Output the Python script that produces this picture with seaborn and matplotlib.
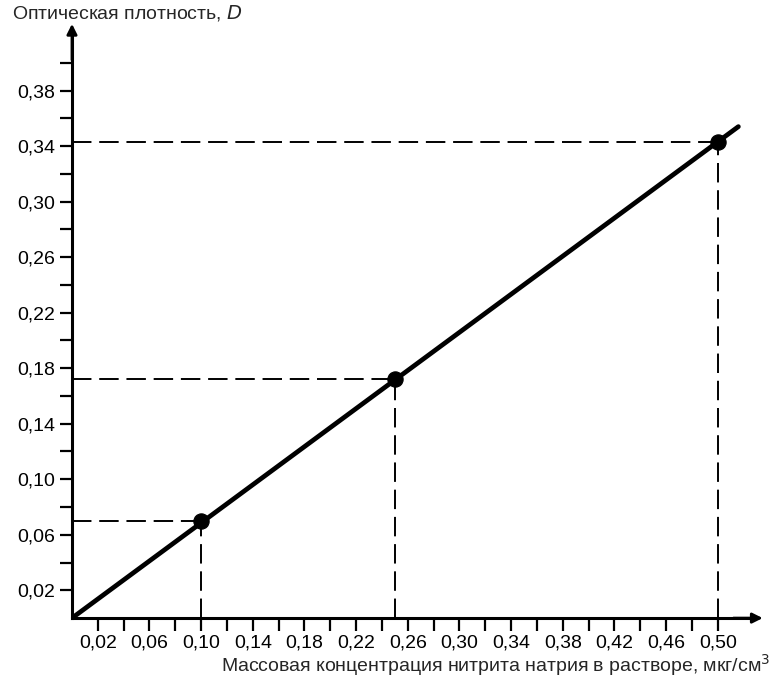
import matplotlib
matplotlib.use("Agg")
import matplotlib.pyplot as plt
import seaborn as sns
import numpy as np
import pandas as pd

sns.set_theme(style="white")
plt.rcParams['font.family'] = ['Liberation Sans', 'DejaVu Sans']

conc = [0.10, 0.25, 0.50]
dens = [0.070, 0.172, 0.343]
line_x = [0.0, 0.516]
line_y = [0.0, 0.354]
x_ticks = [0.02, 0.04, 0.06, 0.08, 0.10, 0.12, 0.14, 0.16, 0.18, 0.20, 0.22, 0.24, 0.26,
           0.28, 0.30, 0.32, 0.34, 0.36, 0.38, 0.40, 0.42, 0.44, 0.46, 0.48, 0.50]
y_ticks = [0.02, 0.04, 0.06, 0.08, 0.10, 0.12, 0.14, 0.16, 0.18, 0.20, 0.22, 0.24, 0.26,
           0.28, 0.30, 0.32, 0.34, 0.36, 0.38, 0.40]
x_labeled = [0.02, 0.06, 0.10, 0.14, 0.18, 0.22, 0.26, 0.30, 0.34, 0.38, 0.42, 0.46, 0.50]
y_labeled = [0.02, 0.06, 0.10, 0.14, 0.18, 0.22, 0.26, 0.30, 0.34, 0.38]

def fmt(v):
    return f"{v:.2f}".replace(".", ",")

fig = plt.figure(figsize=(7.74, 6.86), dpi=100)
ax = fig.add_axes([0.093, 0.099, 0.876, 0.85])
ax.set_xlim(0, 0.525)
ax.set_ylim(0, 0.42)

sns.lineplot(x=line_x, y=line_y, ax=ax, color="black", linewidth=3.4)
for cx, cy in zip(conc, dens):
    ax.plot([0, cx], [cy, cy], color="black", lw=1.4, dashes=(10, 4))
    ax.plot([cx, cx], [0, cy], color="black", lw=1.4, dashes=(10, 4))
sns.scatterplot(x=conc, y=dens, ax=ax, color="black", s=120, zorder=5, edgecolor="black")

for s in ["top", "right"]:
    ax.spines[s].set_visible(False)
for s in ["left", "bottom"]:
    ax.spines[s].set_color("black")
    ax.spines[s].set_linewidth(2.2)

ax.set_xticks(x_ticks)
ax.set_xticklabels([fmt(v) if any(abs(v - l) < 1e-9 for l in x_labeled) else "" for v in x_ticks])
ax.set_yticks(y_ticks)
ax.set_yticklabels([fmt(v) if any(abs(v - l) < 1e-9 for l in y_labeled) else "" for v in y_ticks])
ax.tick_params(axis="both", direction="out", length=9, width=1.6, colors="black",
               labelsize=14, bottom=True, left=True, pad=3)

ax.annotate("", xy=(0, 0.43), xytext=(0, 0.40), xycoords="data",
            arrowprops=dict(arrowstyle="-|>", color="black", lw=2, mutation_scale=15), annotation_clip=False)
ax.annotate("", xy=(0.537, 0), xytext=(0.51, 0), xycoords="data",
            arrowprops=dict(arrowstyle="-|>", color="black", lw=2, mutation_scale=15), annotation_clip=False)

fig.text(0.015, 0.966, "Оптическая плотность, $\\it{D}$", fontsize=14, ha="left", va="bottom")
fig.text(0.995, 0.012, "Массовая концентрация нитрита натрия в растворе, мкг/см$^3$",
         fontsize=14, ha="right", va="bottom")

fig.savefig("out.png", dpi=100)
